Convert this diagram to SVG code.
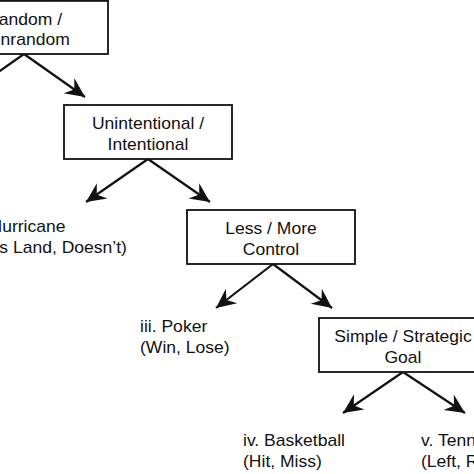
<svg xmlns="http://www.w3.org/2000/svg" width="474" height="474" viewBox="0 0 474 474">
<defs>
<style>
.box{fill:#fff;stroke:#111;stroke-width:1.8}
.t{font-family:"Liberation Sans",Arial,sans-serif;font-size:15.8px;fill:#111}
.c{text-anchor:middle}
.edge{stroke:#111;stroke-width:2.2;fill:none;marker-end:url(#ah)}
</style>
<marker id="ah" markerUnits="userSpaceOnUse" markerWidth="24" markerHeight="24" viewBox="-20 -10 22 20" refX="0" refY="0" orient="auto">
<path d="M0,0 L-18,-8.5 L-12,0 L-18,8.5 Z" fill="#111"/>
</marker>
</defs>
<rect width="474" height="474" fill="#fff"/>
<g id="connectors">
<line class="edge" x1="24" y1="54" x2="-37" y2="97"/>
<line class="edge" x1="24" y1="54" x2="85" y2="97"/>
<line class="edge" x1="148" y1="159" x2="86" y2="202"/>
<line class="edge" x1="148" y1="159" x2="210" y2="202"/>
<line class="edge" x1="273" y1="264" x2="216" y2="308"/>
<line class="edge" x1="273" y1="264" x2="332" y2="308"/>
<line class="edge" x1="403" y1="372" x2="343" y2="413"/>
<line class="edge" x1="403" y1="372" x2="465" y2="413"/>
</g>
<g id="n1">
<rect class="box" x="-60" y="0.9" width="168" height="53.1"/>
<text class="t c" transform="translate(24,25) scale(1.11,1)">Random /</text>
<text class="t c" transform="translate(24,45) scale(1.11,1)">Nonrandom</text>
</g>
<g id="n2">
<rect class="box" x="64" y="105" width="168" height="54"/>
<text class="t c" transform="translate(148,129) scale(1.11,1)">Unintentional /</text>
<text class="t c" transform="translate(148,150) scale(1.11,1)">Intentional</text>
</g>
<g id="n3">
<rect class="box" x="187" y="210" width="168" height="54"/>
<text class="t c" transform="translate(271,234) scale(1.11,1)">Less / More</text>
<text class="t c" transform="translate(271,255) scale(1.11,1)">Control</text>
</g>
<g id="n4">
<rect class="box" x="319" y="318" width="168" height="54"/>
<text class="t c" transform="translate(403,342) scale(1.11,1)">Simple / Strategic</text>
<text class="t c" transform="translate(403,363) scale(1.11,1)">Goal</text>
</g>
<g id="l2">
<text class="t" transform="translate(-28,232) scale(1.11,1)">ii. Hurricane</text>
<text class="t" transform="translate(-28,253) scale(1.11,1)">(Hits Land, Doesn’t)</text>
</g>
<g id="l3">
<text class="t" transform="translate(140,332) scale(1.11,1)">iii. Poker</text>
<text class="t" transform="translate(140,353) scale(1.11,1)">(Win, Lose)</text>
</g>
<g id="l4">
<text class="t" transform="translate(243,446) scale(1.11,1)">iv. Basketball</text>
<text class="t" transform="translate(243,467) scale(1.11,1)">(Hit, Miss)</text>
</g>
<g id="l5">
<text class="t" transform="translate(421,446) scale(1.11,1)">v. Tennis</text>
<text class="t" transform="translate(421,467) scale(1.11,1)">(Left, Right)</text>
</g>
</svg>
